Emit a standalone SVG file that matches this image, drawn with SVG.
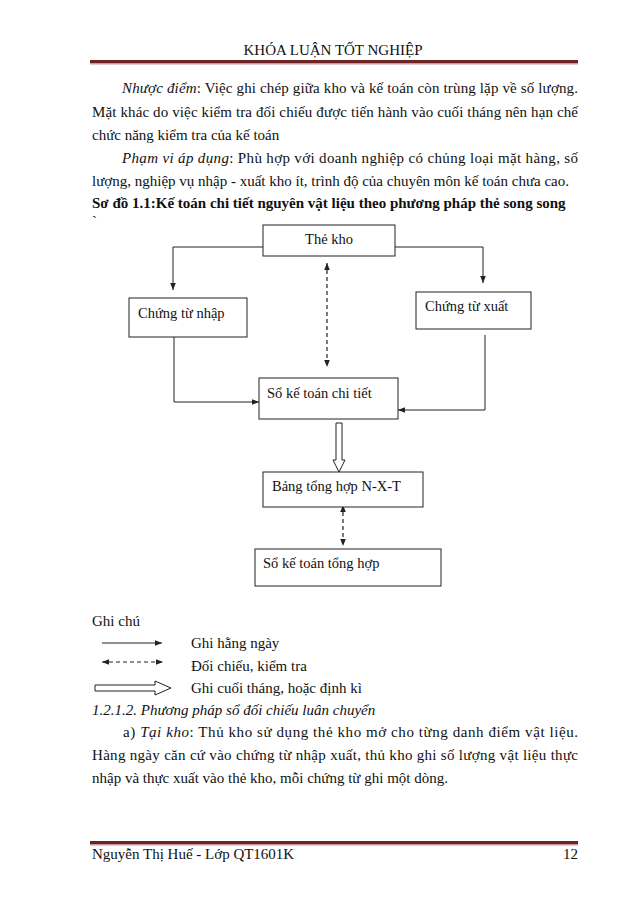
<svg xmlns="http://www.w3.org/2000/svg" width="638" height="902" viewBox="0 0 638 902">
<style>
text{font-family:"Liberation Serif","Times New Roman",serif;fill:#111;font-size:15px}
.b{font-weight:bold}
.i{font-style:italic}
.box{fill:#fff;stroke:#222;stroke-width:1}
.ln{fill:none;stroke:#222;stroke-width:1}
.dash{fill:none;stroke:#222;stroke-width:1.2;stroke-dasharray:4,3}
.hollow{fill:#fff;stroke:#222;stroke-width:1}
.nt{font-size:14.5px}
</style>
<defs>
<marker id="ah" viewBox="0 0 10 10" refX="10" refY="5" markerWidth="7" markerHeight="7" markerUnits="userSpaceOnUse" orient="auto-start-reverse">
<path d="M0,1 L10,5 L0,9 z" fill="#222"/>
</marker>
</defs>
<rect width="638" height="902" fill="#fff"/>
<!-- header -->
<text x="333" y="55" text-anchor="middle" font-size="16">KHÓA LUẬN TỐT NGHIỆP</text>
<rect x="90" y="60" width="488" height="3" fill="#6e2424"/>
<rect x="90" y="63" width="488" height="1.5" fill="#c49a9a"/>
<!-- body text -->
<text x="122" y="93" textLength="456" lengthAdjust="spacing"><tspan class="i">Nhược điểm</tspan>: Việc ghi chép giữa kho và kế toán còn trùng lặp về số lượng.</text>
<text x="92" y="117" textLength="486" lengthAdjust="spacing">Mặt khác do việc kiểm tra đối chiếu được tiến hành vào cuối tháng nên hạn chế</text>
<text x="92" y="140">chức năng kiểm tra của kế toán</text>
<text x="122" y="163" textLength="456" lengthAdjust="spacing"><tspan class="i">Phạm vi áp dụng</tspan>: Phù hợp với doanh nghiệp có chủng loại mặt hàng, số</text>
<text x="92" y="186">lượng, nghiệp vụ nhập - xuất kho ít, trình độ của chuyên môn kế toán chưa cao.</text>
<text x="92" y="208" class="b">Sơ đồ 1.1:Kế toán chi tiết nguyên vật liệu theo phương pháp thẻ song song</text>
<text x="92" y="226">`</text>
<!-- connectors -->
<g id="connectors">
<polyline class="ln" points="263,247 173,247 173,290" marker-end="url(#ah)"/>
<polyline class="ln" points="395,247 483,247 483,283" marker-end="url(#ah)"/>
<line class="dash" x1="327" y1="263" x2="327" y2="367" marker-start="url(#ah)" marker-end="url(#ah)"/>
<polyline class="ln" points="174,337 174,402 259,402" marker-end="url(#ah)"/>
<polyline class="ln" points="485,335 485,410 398,410" marker-end="url(#ah)"/>
<polygon class="hollow" points="336,423 342,423 342,460 345,460 339,472 333,460 336,460"/>
<line class="dash" x1="343" y1="505" x2="343" y2="546" marker-start="url(#ah)" marker-end="url(#ah)"/>
</g>
<!-- nodes -->
<g id="the-kho"><rect class="box" x="263" y="225" width="132" height="31"/><text class="nt" x="329" y="244" text-anchor="middle">Thẻ kho</text></g>
<g id="chung-tu-nhap"><rect class="box" x="129" y="298" width="118" height="39"/><text class="nt" x="138" y="318">Chứng từ nhập</text></g>
<g id="chung-tu-xuat"><rect class="box" x="416" y="292" width="115" height="37"/><text class="nt" x="425" y="311">Chứng từ xuất</text></g>
<g id="so-ke-toan-chi-tiet"><rect class="box" x="259" y="378" width="139" height="41"/><text class="nt" x="267" y="398">Sổ kế toán chi tiết</text></g>
<g id="bang-tong-hop"><rect class="box" x="263" y="472" width="160" height="35"/><text class="nt" x="272" y="491">Bảng tổng hợp N-X-T</text></g>
<g id="so-ke-toan-tong-hop"><rect class="box" x="255" y="549" width="186" height="37"/><text class="nt" x="263" y="568">Sổ kế toán tổng hợp</text></g>
<!-- legend -->
<g id="legend">
<text x="92" y="626">Ghi chú</text>
<line class="ln" x1="102" y1="643" x2="162" y2="643" marker-end="url(#ah)"/>
<text x="191" y="648">Ghi hằng ngày</text>
<line class="dash" x1="102" y1="662" x2="163" y2="662" marker-start="url(#ah)" marker-end="url(#ah)"/>
<text x="191" y="671">Đối chiếu, kiểm tra</text>
<polygon class="hollow" points="95,685 155,685 155,681 171,688 155,695 155,691 95,691"/>
<text x="191" y="693">Ghi cuối tháng, hoặc định kì</text>
</g>
<text x="92" y="715" class="i">1.2.1.2. Phương pháp sổ đối chiếu luân chuyển</text>
<text x="123" y="737" textLength="455" lengthAdjust="spacing">a) <tspan class="i">Tại kho</tspan>: Thủ kho sử dụng thẻ kho mở cho từng danh điểm vật liệu.</text>
<text x="92" y="760" textLength="486" lengthAdjust="spacing">Hàng ngày căn cứ vào chứng từ nhập xuất, thủ kho ghi số lượng vật liệu thực</text>
<text x="92" y="783">nhập và thực xuất vào thẻ kho, mỗi chứng từ ghi một dòng.</text>
<!-- footer -->
<rect x="90" y="841" width="488" height="3" fill="#6e2424"/>
<rect x="90" y="844" width="488" height="1.5" fill="#c49a9a"/>
<text x="92" y="859">Nguyễn Thị Huế - Lớp QT1601K</text>
<text x="578" y="859" text-anchor="end">12</text>
</svg>
